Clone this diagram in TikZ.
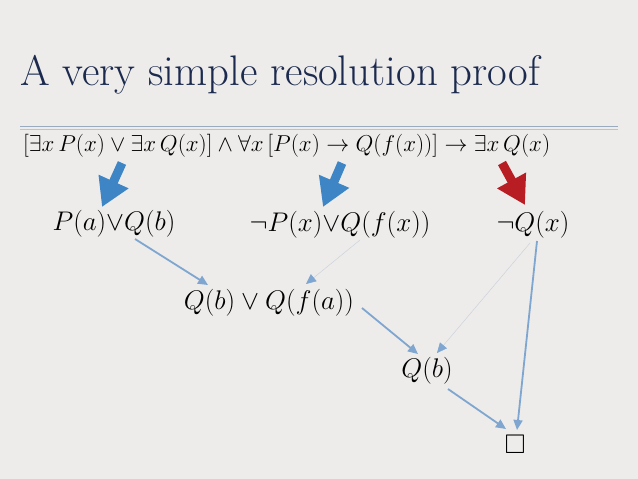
\documentclass[tikz,border=0pt]{standalone}
\usepackage{graphicx}
\usepackage{amssymb}
\usetikzlibrary{arrows.meta,calc}
\definecolor{bg}{HTML}{EDECEA}
\definecolor{titlecol}{HTML}{1B2A4E}
\definecolor{rulecol}{HTML}{9AAABF}
\definecolor{bigblue}{HTML}{3E85C5}
\definecolor{bigred}{HTML}{B81D24}
\definecolor{conncol}{HTML}{7EA6D0}
\definecolor{thincol}{HTML}{CBD3DC}
\newcommand{\cl}[1]{\scalebox{1.56}{#1}}
\tikzset{
  clause/.style={inner sep=0pt, font=\fontsize{19}{23}\selectfont},
  bigarrow/.style={line width=9pt, -{Triangle[length=28pt,width=31pt]}},
  conn/.style={draw=conncol, line width=1.8pt, -{Triangle[length=10pt,width=9pt]}},
  thinconn/.style={draw=thincol, line width=0.5pt, -{Triangle[length=10pt,width=9pt,color=conncol,fill=conncol]}},
}
\begin{document}
\begin{tikzpicture}[x=1pt,y=-1pt]
\useasboundingbox[fill=bg] (0,0) rectangle (638,479);
% title
\node[anchor=base west, inner sep=0pt, text=titlecol, font=\fontsize{39.5}{46}\selectfont] (title) at (20,85) {\scalebox{1.083}{A very simple resolution proof}};
% double rule
\draw[rulecol, line width=0.9pt] (20,126.5) coordinate (rl) -- (618,126.5) coordinate (rr);
\draw[rulecol!70, line width=0.7pt] ($(rl)+(0,3)$) -- ($(rr)+(0,3)$);
% formula
\node[anchor=west, inner sep=0pt, font=\fontsize{17}{21}\selectfont] (formula) at (23,146)
  {\scalebox{1.33}{$[\exists x\,P(x) \lor \exists x\,Q(x)] \land \forall x\,[P(x) \to Q(f(x))] \to \exists x\,Q(x)$}};
% clauses
\node[clause] (pa) at (114,224) {\cl{$P(a){\lor}Q(b)$}};
\node[clause] (npx) at (340,225) {\cl{$\neg P(x){\lor}Q(f(x))$}};
\node[clause] (nqx) at (533,225) {\cl{$\neg Q(x)$}};
\node[clause] (qbf) at (269,303) {\cl{$Q(b)\lor Q(f(a))$}};
\node[clause] (qb) at (427,371) {\cl{$Q(b)$}};
\node[clause] (box) at (515,444) {\scalebox{1.42}{$\square$}};
% big arrows
\coordinate (a1s) at (122,163); \coordinate (a1t) at (102,207);
\coordinate (a2s) at (342,163); \coordinate (a2t) at (323,207);
\coordinate (a3s) at (502,163); \coordinate (a3t) at (525,205);
\draw[bigarrow, bigblue] (a1s) -- (a1t);
\draw[bigarrow, bigblue] (a2s) -- (a2t);
\draw[bigarrow, bigred] (a3s) -- (a3t);
% connectors
\draw[conn] ($(pa.center)+(21,15)$) -- ($(qbf.center)+(-61,-18)$);
\draw[thinconn] ($(npx.center)+(20,15)$) -- ($(qbf.center)+(37,-19)$);
\draw[thinconn] ($(nqx.center)+(-3,18)$) -- ($(qb.center)+(10,-18)$);
\draw[conn] ($(nqx.center)+(4,16)$) -- ($(box.center)+(2,-14)$);
\draw[conn] ($(qbf.center)+(93,5)$) -- ($(qb.center)+(-9,-17)$);
\draw[conn] ($(qb.center)+(21,18)$) -- ($(box.center)+(-9,-15)$);
\end{tikzpicture}
\end{document}
